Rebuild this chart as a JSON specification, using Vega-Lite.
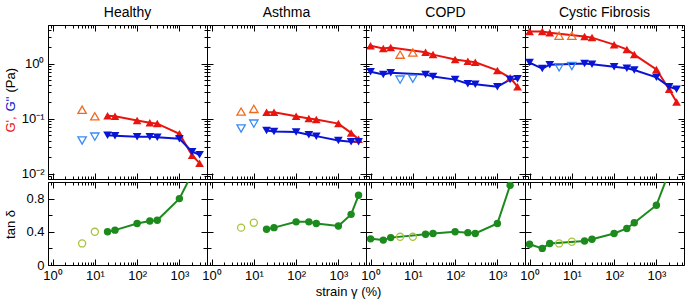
{
"$schema": "https://vega.github.io/schema/vega-lite/v6.json",
"padding": {"left": 4, "top": 5, "right": 1, "bottom": 0},
"background": "white",
"config": {
  "view": {"stroke": null},
  "font": "Liberation Sans",
  "axis": {"labelFont": "Liberation Sans", "labelFontSize": 13, "labelColor": "black", "titleFont": "Liberation Sans", "titleFontSize": 13, "titleFontWeight": "normal", "titleColor": "black", "domainColor": "black", "domainWidth": 1, "tickColor": "black", "tickWidth": 1, "grid": false, "labelOverlap": false, "labelFlush": false, "minExtent": 0},
  "title": {"font": "Liberation Sans", "fontSize": 14, "fontWeight": "normal", "color": "black", "offset": 5}
},
"data": {"values": [
{"g":"H","s":5,"k":"Gpo","v":0.145},{"g":"H","s":5,"k":"Gppo","v":0.04},{"g":"H","s":5,"k":"to","v":0.26},
{"g":"H","s":10,"k":"Gpo","v":0.11},{"g":"H","s":10,"k":"Gppo","v":0.047},{"g":"H","s":10,"k":"to","v":0.4},
{"g":"H","s":20,"k":"Gp","v":0.113},{"g":"H","s":20,"k":"Gpp","v":0.05},{"g":"H","s":20,"k":"t","v":0.4},
{"g":"H","s":30,"k":"Gp","v":0.11},{"g":"H","s":30,"k":"Gpp","v":0.049},{"g":"H","s":30,"k":"t","v":0.42},
{"g":"H","s":100,"k":"Gp","v":0.092},{"g":"H","s":100,"k":"Gpp","v":0.047},{"g":"H","s":100,"k":"t","v":0.5},
{"g":"H","s":200,"k":"Gp","v":0.084},{"g":"H","s":200,"k":"Gpp","v":0.047},{"g":"H","s":200,"k":"t","v":0.53},
{"g":"H","s":300,"k":"Gp","v":0.081},{"g":"H","s":300,"k":"Gpp","v":0.046},{"g":"H","s":300,"k":"t","v":0.54},
{"g":"H","s":1000,"k":"Gp","v":0.053},{"g":"H","s":1000,"k":"Gpp","v":0.043},{"g":"H","s":1000,"k":"t","v":0.8},
{"g":"H","s":2000,"k":"Gp","v":0.0215},{"g":"H","s":2000,"k":"Gpp","v":0.025},{"g":"H","s":2000,"k":"t","v":1.1},
{"g":"H","s":3000,"k":"Gp","v":0.0155},{"g":"H","s":3000,"k":"Gpp","v":0.022},{"g":"H","s":3000,"k":"t","v":1.4},
{"g":"A","s":5,"k":"Gpo","v":0.134},{"g":"A","s":5,"k":"Gppo","v":0.066},{"g":"A","s":5,"k":"to","v":0.45},
{"g":"A","s":10,"k":"Gpo","v":0.15},{"g":"A","s":10,"k":"Gppo","v":0.081},{"g":"A","s":10,"k":"to","v":0.51},
{"g":"A","s":20,"k":"Gp","v":0.13},{"g":"A","s":20,"k":"Gpp","v":0.061},{"g":"A","s":20,"k":"t","v":0.43},
{"g":"A","s":30,"k":"Gp","v":0.13},{"g":"A","s":30,"k":"Gpp","v":0.058},{"g":"A","s":30,"k":"t","v":0.45},
{"g":"A","s":100,"k":"Gp","v":0.11},{"g":"A","s":100,"k":"Gpp","v":0.057},{"g":"A","s":100,"k":"t","v":0.52},
{"g":"A","s":200,"k":"Gp","v":0.1},{"g":"A","s":200,"k":"Gpp","v":0.051},{"g":"A","s":200,"k":"t","v":0.52},
{"g":"A","s":300,"k":"Gp","v":0.096},{"g":"A","s":300,"k":"Gpp","v":0.048},{"g":"A","s":300,"k":"t","v":0.5},
{"g":"A","s":1000,"k":"Gp","v":0.081},{"g":"A","s":1000,"k":"Gpp","v":0.04},{"g":"A","s":1000,"k":"t","v":0.47},
{"g":"A","s":2000,"k":"Gp","v":0.055},{"g":"A","s":2000,"k":"Gpp","v":0.038},{"g":"A","s":2000,"k":"t","v":0.61},
{"g":"A","s":3000,"k":"Gp","v":0.042},{"g":"A","s":3000,"k":"Gpp","v":0.038},{"g":"A","s":3000,"k":"t","v":0.84},
{"g":"C","s":1,"k":"Gp","v":2.1},{"g":"C","s":1,"k":"Gpp","v":0.71},{"g":"C","s":1,"k":"t","v":0.315},
{"g":"C","s":2,"k":"Gp","v":1.87},{"g":"C","s":2,"k":"Gpp","v":0.63},{"g":"C","s":2,"k":"t","v":0.3},
{"g":"C","s":3,"k":"Gp","v":1.95},{"g":"C","s":3,"k":"Gpp","v":0.68},{"g":"C","s":3,"k":"t","v":0.33},
{"g":"C","s":5,"k":"Gpo","v":1.45},{"g":"C","s":5,"k":"Gppo","v":0.51},{"g":"C","s":5,"k":"to","v":0.34},
{"g":"C","s":10,"k":"Gpo","v":1.58},{"g":"C","s":10,"k":"Gppo","v":0.53},{"g":"C","s":10,"k":"to","v":0.34},
{"g":"C","s":20,"k":"Gp","v":1.6},{"g":"C","s":20,"k":"Gpp","v":0.63},{"g":"C","s":20,"k":"t","v":0.37},
{"g":"C","s":30,"k":"Gp","v":1.45},{"g":"C","s":30,"k":"Gpp","v":0.58},{"g":"C","s":30,"k":"t","v":0.38},
{"g":"C","s":100,"k":"Gp","v":1.18},{"g":"C","s":100,"k":"Gpp","v":0.51},{"g":"C","s":100,"k":"t","v":0.4},
{"g":"C","s":200,"k":"Gp","v":1.1},{"g":"C","s":200,"k":"Gpp","v":0.43},{"g":"C","s":200,"k":"t","v":0.39},
{"g":"C","s":300,"k":"Gp","v":1.05},{"g":"C","s":300,"k":"Gpp","v":0.42},{"g":"C","s":300,"k":"t","v":0.38},
{"g":"C","s":1000,"k":"Gp","v":0.75},{"g":"C","s":1000,"k":"Gpp","v":0.38},{"g":"C","s":1000,"k":"t","v":0.5},
{"g":"C","s":2000,"k":"Gp","v":0.55},{"g":"C","s":2000,"k":"Gpp","v":0.51},{"g":"C","s":2000,"k":"t","v":0.96},
{"g":"C","s":3000,"k":"Gp","v":0.38},{"g":"C","s":3000,"k":"Gpp","v":0.53},{"g":"C","s":3000,"k":"t","v":1.4},
{"g":"F","s":1,"k":"Gp","v":3.8},{"g":"F","s":1,"k":"Gpp","v":1.04},{"g":"F","s":1,"k":"t","v":0.25},
{"g":"F","s":2,"k":"Gp","v":3.8},{"g":"F","s":2,"k":"Gpp","v":0.81},{"g":"F","s":2,"k":"t","v":0.2},
{"g":"F","s":3,"k":"Gp","v":3.6},{"g":"F","s":3,"k":"Gpp","v":0.95},{"g":"F","s":3,"k":"t","v":0.26},
{"g":"F","s":5,"k":"Gpo","v":3.2},{"g":"F","s":5,"k":"Gppo","v":0.85},{"g":"F","s":5,"k":"to","v":0.26},
{"g":"F","s":10,"k":"Gpo","v":3.2},{"g":"F","s":10,"k":"Gppo","v":0.9},{"g":"F","s":10,"k":"to","v":0.28},
{"g":"F","s":20,"k":"Gp","v":3.1},{"g":"F","s":20,"k":"Gpp","v":1.0},{"g":"F","s":20,"k":"t","v":0.29},
{"g":"F","s":30,"k":"Gp","v":2.95},{"g":"F","s":30,"k":"Gpp","v":0.97},{"g":"F","s":30,"k":"t","v":0.31},
{"g":"F","s":100,"k":"Gp","v":2.2},{"g":"F","s":100,"k":"Gpp","v":0.87},{"g":"F","s":100,"k":"t","v":0.38},
{"g":"F","s":200,"k":"Gp","v":1.8},{"g":"F","s":200,"k":"Gpp","v":0.82},{"g":"F","s":200,"k":"t","v":0.44},
{"g":"F","s":300,"k":"Gp","v":1.45},{"g":"F","s":300,"k":"Gpp","v":0.76},{"g":"F","s":300,"k":"t","v":0.51},
{"g":"F","s":1000,"k":"Gp","v":0.78},{"g":"F","s":1000,"k":"Gpp","v":0.56},{"g":"F","s":1000,"k":"t","v":0.72},
{"g":"F","s":2000,"k":"Gp","v":0.34},{"g":"F","s":2000,"k":"Gpp","v":0.38},{"g":"F","s":2000,"k":"t","v":1.12},
{"g":"F","s":3000,"k":"Gp","v":0.2},{"g":"F","s":3000,"k":"Gpp","v":0.34},{"g":"F","s":3000,"k":"t","v":1.7}
]},
"spacing": 0,
"vconcat": [
{"spacing": 0, "bounds": "flush", "hconcat": [
 {"title": {"text": "Healthy"}, "width": 159, "height": 154,
  "resolve": {"axis": {"x": "independent", "y": "independent"}},
  "layer": [
   {"transform": [{"filter": "datum.g=='H' && (datum.k=='Gp' || datum.k=='Gpp')"}],
    "mark": {"type": "line", "strokeWidth": 2, "clip": true},
    "encoding": {
     "x": {"field": "s", "type": "quantitative", "scale": {"type": "log", "domain": [0.78, 4500], "nice": false}, "axis": {"orient": "bottom", "values": [0.8,0.9,1,2,3,4,5,6,7,8,9,10,20,30,40,50,60,70,80,90,100,200,300,400,500,600,700,800,900,1000,2000,3000,4000], "tickSize": {"condition": {"test": "indexof([1,10,100,1000],datum.value)>=0", "value": -6}, "value": -3}, "labels": false, "title": null}},
     "y": {"field": "v", "type": "quantitative", "scale": {"type": "log", "domain": [0.008, 5], "nice": false}, "axis": {"orient": "left", "values": [0.01,0.1,1], "tickSize": -6, "labelExpr": "datum.value==1?'10⁰':datum.value==0.1?'10⁻¹':'10⁻²'", "labelPadding": 10, "title": "(Pa)", "titleAngle": -90, "titleX": -37.5, "titleY": 67, "titleAlign": "left", "titleBaseline": "middle"}},
     "color": {"field": "k", "type": "nominal", "scale": {"domain": ["Gp","Gpo","Gpp","Gppo","t","to"], "range": ["#e8150f","#f26a20","#0a14d4","#3a8cf5","#1c8a1c","#a6c439"]}, "legend": null}
    }},
   {"transform": [{"filter": "datum.g=='H' && (datum.k=='Gp' || datum.k=='Gpp')"}],
    "mark": {"type": "point", "filled": true, "opacity": 1, "size": 75, "clip": true},
    "encoding": {
     "x": {"field": "s", "type": "quantitative", "scale": {"type": "log", "domain": [0.78, 4500], "nice": false}, "axis": {"orient": "top", "values": [0.8,0.9,1,2,3,4,5,6,7,8,9,10,20,30,40,50,60,70,80,90,100,200,300,400,500,600,700,800,900,1000,2000,3000,4000], "tickSize": {"condition": {"test": "indexof([1,10,100,1000],datum.value)>=0", "value": -6}, "value": -3}, "labels": false, "title": null}},
     "y": {"field": "v", "type": "quantitative", "scale": {"type": "log", "domain": [0.008, 5], "nice": false}, "axis": {"orient": "right", "values": [0.008,0.009,0.01,0.02,0.03,0.04,0.05,0.06,0.07,0.08,0.09,0.1,0.2,0.3,0.4,0.5,0.6,0.7,0.8,0.9,1,2,3,4,5], "tickSize": {"condition": {"test": "indexof([0.01,0.1,1],datum.value)>=0", "value": -6}, "value": -3}, "labels": false, "title": null}},
     "color": {"field": "k", "type": "nominal", "scale": {"domain": ["Gp","Gpo","Gpp","Gppo","t","to"], "range": ["#e8150f","#f26a20","#0a14d4","#3a8cf5","#1c8a1c","#a6c439"]}, "legend": null},
     "shape": {"field": "k", "type": "nominal", "scale": {"domain": ["Gp","Gpo","Gpp","Gppo","t","to"], "range": ["triangle-up","triangle-up","triangle-down","triangle-down","circle","circle"]}, "legend": null}
    }},
   {"transform": [{"filter": "datum.g=='H' && datum.k=='Gpo'"}],
    "mark": {"type": "point", "filled": false, "opacity": 1, "size": 70, "strokeWidth": 1.3, "shape": "triangle-up", "clip": true},
    "encoding": {
     "x": {"field": "s", "type": "quantitative", "scale": {"type": "log", "domain": [0.78, 4500], "nice": false}, "axis": null},
     "y": {"field": "v", "type": "quantitative", "scale": {"type": "log", "domain": [0.008, 5], "nice": false}, "axis": {"orient": "left", "values": [0.008,0.009,0.02,0.03,0.04,0.05,0.06,0.07,0.08,0.09,0.2,0.3,0.4,0.5,0.6,0.7,0.8,0.9,2,3,4,5], "tickSize": -3, "domain": false, "labels": false, "title": "G',", "titleColor": "#e8150f", "titleAngle": -90, "titleX": -37.5, "titleY": 107, "titleAlign": "left", "titleBaseline": "middle"}},
     "color": {"field": "k", "type": "nominal", "scale": {"domain": ["Gp","Gpo","Gpp","Gppo","t","to"], "range": ["#e8150f","#f26a20","#0a14d4","#3a8cf5","#1c8a1c","#a6c439"]}, "legend": null}
    }},
   {"transform": [{"filter": "datum.g=='H' && datum.k=='Gppo'"}],
    "mark": {"type": "point", "filled": false, "opacity": 1, "size": 70, "strokeWidth": 1.3, "shape": "triangle-down", "clip": true},
    "encoding": {
     "x": {"field": "s", "type": "quantitative", "scale": {"type": "log", "domain": [0.78, 4500], "nice": false}, "axis": null},
     "y": {"field": "v", "type": "quantitative", "scale": {"type": "log", "domain": [0.008, 5], "nice": false}, "axis": {"orient": "left", "domain": false, "ticks": false, "labels": false, "title": "G''", "titleColor": "#0a14d4", "titleAngle": -90, "titleX": -37.5, "titleY": 86, "titleAlign": "left", "titleBaseline": "middle"}},
     "color": {"field": "k", "type": "nominal", "scale": {"domain": ["Gp","Gpo","Gpp","Gppo","t","to"], "range": ["#e8150f","#f26a20","#0a14d4","#3a8cf5","#1c8a1c","#a6c439"]}, "legend": null}
    }}
  ]},
 {"title": {"text": "Asthma"}, "width": 159, "height": 154,
  "resolve": {"axis": {"x": "independent", "y": "independent"}},
  "layer": [
   {"transform": [{"filter": "datum.g=='A' && (datum.k=='Gp' || datum.k=='Gpp')"}],
    "mark": {"type": "line", "strokeWidth": 2, "clip": true},
    "encoding": {
     "x": {"field": "s", "type": "quantitative", "scale": {"type": "log", "domain": [0.78, 4500], "nice": false}, "axis": {"orient": "bottom", "values": [0.8,0.9,1,2,3,4,5,6,7,8,9,10,20,30,40,50,60,70,80,90,100,200,300,400,500,600,700,800,900,1000,2000,3000,4000], "tickSize": {"condition": {"test": "indexof([1,10,100,1000],datum.value)>=0", "value": -6}, "value": -3}, "labels": false, "title": null}},
     "y": {"field": "v", "type": "quantitative", "scale": {"type": "log", "domain": [0.008, 5], "nice": false}, "axis": {"orient": "left", "values": [0.008,0.009,0.01,0.02,0.03,0.04,0.05,0.06,0.07,0.08,0.09,0.1,0.2,0.3,0.4,0.5,0.6,0.7,0.8,0.9,1,2,3,4,5], "tickSize": {"condition": {"test": "indexof([0.01,0.1,1],datum.value)>=0", "value": -6}, "value": -3}, "labels": false, "title": null}},
     "color": {"field": "k", "type": "nominal", "scale": {"domain": ["Gp","Gpo","Gpp","Gppo","t","to"], "range": ["#e8150f","#f26a20","#0a14d4","#3a8cf5","#1c8a1c","#a6c439"]}, "legend": null}
    }},
   {"transform": [{"filter": "datum.g=='A' && (datum.k=='Gp' || datum.k=='Gpp')"}],
    "mark": {"type": "point", "filled": true, "opacity": 1, "size": 75, "clip": true},
    "encoding": {
     "x": {"field": "s", "type": "quantitative", "scale": {"type": "log", "domain": [0.78, 4500], "nice": false}, "axis": {"orient": "top", "values": [0.8,0.9,1,2,3,4,5,6,7,8,9,10,20,30,40,50,60,70,80,90,100,200,300,400,500,600,700,800,900,1000,2000,3000,4000], "tickSize": {"condition": {"test": "indexof([1,10,100,1000],datum.value)>=0", "value": -6}, "value": -3}, "labels": false, "title": null}},
     "y": {"field": "v", "type": "quantitative", "scale": {"type": "log", "domain": [0.008, 5], "nice": false}, "axis": {"orient": "right", "values": [0.008,0.009,0.01,0.02,0.03,0.04,0.05,0.06,0.07,0.08,0.09,0.1,0.2,0.3,0.4,0.5,0.6,0.7,0.8,0.9,1,2,3,4,5], "tickSize": {"condition": {"test": "indexof([0.01,0.1,1],datum.value)>=0", "value": -6}, "value": -3}, "labels": false, "title": null}},
     "color": {"field": "k", "type": "nominal", "scale": {"domain": ["Gp","Gpo","Gpp","Gppo","t","to"], "range": ["#e8150f","#f26a20","#0a14d4","#3a8cf5","#1c8a1c","#a6c439"]}, "legend": null},
     "shape": {"field": "k", "type": "nominal", "scale": {"domain": ["Gp","Gpo","Gpp","Gppo","t","to"], "range": ["triangle-up","triangle-up","triangle-down","triangle-down","circle","circle"]}, "legend": null}
    }},
   {"transform": [{"filter": "datum.g=='A' && (datum.k=='Gpo' || datum.k=='Gppo')"}],
    "mark": {"type": "point", "filled": false, "opacity": 1, "size": 70, "strokeWidth": 1.3, "clip": true},
    "encoding": {
     "x": {"field": "s", "type": "quantitative", "scale": {"type": "log", "domain": [0.78, 4500], "nice": false}, "axis": null},
     "y": {"field": "v", "type": "quantitative", "scale": {"type": "log", "domain": [0.008, 5], "nice": false}, "axis": null},
     "color": {"field": "k", "type": "nominal", "scale": {"domain": ["Gp","Gpo","Gpp","Gppo","t","to"], "range": ["#e8150f","#f26a20","#0a14d4","#3a8cf5","#1c8a1c","#a6c439"]}, "legend": null},
     "shape": {"field": "k", "type": "nominal", "scale": {"domain": ["Gp","Gpo","Gpp","Gppo","t","to"], "range": ["triangle-up","triangle-up","triangle-down","triangle-down","circle","circle"]}, "legend": null}
    }}
  ]},
 {"title": {"text": "COPD"}, "width": 159, "height": 154,
  "resolve": {"axis": {"x": "independent", "y": "independent"}},
  "layer": [
   {"transform": [{"filter": "datum.g=='C' && (datum.k=='Gp' || datum.k=='Gpp')"}],
    "mark": {"type": "line", "strokeWidth": 2, "clip": true},
    "encoding": {
     "x": {"field": "s", "type": "quantitative", "scale": {"type": "log", "domain": [0.78, 4500], "nice": false}, "axis": {"orient": "bottom", "values": [0.8,0.9,1,2,3,4,5,6,7,8,9,10,20,30,40,50,60,70,80,90,100,200,300,400,500,600,700,800,900,1000,2000,3000,4000], "tickSize": {"condition": {"test": "indexof([1,10,100,1000],datum.value)>=0", "value": -6}, "value": -3}, "labels": false, "title": null}},
     "y": {"field": "v", "type": "quantitative", "scale": {"type": "log", "domain": [0.008, 5], "nice": false}, "axis": {"orient": "left", "values": [0.008,0.009,0.01,0.02,0.03,0.04,0.05,0.06,0.07,0.08,0.09,0.1,0.2,0.3,0.4,0.5,0.6,0.7,0.8,0.9,1,2,3,4,5], "tickSize": {"condition": {"test": "indexof([0.01,0.1,1],datum.value)>=0", "value": -6}, "value": -3}, "labels": false, "title": null}},
     "color": {"field": "k", "type": "nominal", "scale": {"domain": ["Gp","Gpo","Gpp","Gppo","t","to"], "range": ["#e8150f","#f26a20","#0a14d4","#3a8cf5","#1c8a1c","#a6c439"]}, "legend": null}
    }},
   {"transform": [{"filter": "datum.g=='C' && (datum.k=='Gp' || datum.k=='Gpp')"}],
    "mark": {"type": "point", "filled": true, "opacity": 1, "size": 75, "clip": true},
    "encoding": {
     "x": {"field": "s", "type": "quantitative", "scale": {"type": "log", "domain": [0.78, 4500], "nice": false}, "axis": {"orient": "top", "values": [0.8,0.9,1,2,3,4,5,6,7,8,9,10,20,30,40,50,60,70,80,90,100,200,300,400,500,600,700,800,900,1000,2000,3000,4000], "tickSize": {"condition": {"test": "indexof([1,10,100,1000],datum.value)>=0", "value": -6}, "value": -3}, "labels": false, "title": null}},
     "y": {"field": "v", "type": "quantitative", "scale": {"type": "log", "domain": [0.008, 5], "nice": false}, "axis": {"orient": "right", "values": [0.008,0.009,0.01,0.02,0.03,0.04,0.05,0.06,0.07,0.08,0.09,0.1,0.2,0.3,0.4,0.5,0.6,0.7,0.8,0.9,1,2,3,4,5], "tickSize": {"condition": {"test": "indexof([0.01,0.1,1],datum.value)>=0", "value": -6}, "value": -3}, "labels": false, "title": null}},
     "color": {"field": "k", "type": "nominal", "scale": {"domain": ["Gp","Gpo","Gpp","Gppo","t","to"], "range": ["#e8150f","#f26a20","#0a14d4","#3a8cf5","#1c8a1c","#a6c439"]}, "legend": null},
     "shape": {"field": "k", "type": "nominal", "scale": {"domain": ["Gp","Gpo","Gpp","Gppo","t","to"], "range": ["triangle-up","triangle-up","triangle-down","triangle-down","circle","circle"]}, "legend": null}
    }},
   {"transform": [{"filter": "datum.g=='C' && (datum.k=='Gpo' || datum.k=='Gppo')"}],
    "mark": {"type": "point", "filled": false, "opacity": 1, "size": 70, "strokeWidth": 1.3, "clip": true},
    "encoding": {
     "x": {"field": "s", "type": "quantitative", "scale": {"type": "log", "domain": [0.78, 4500], "nice": false}, "axis": null},
     "y": {"field": "v", "type": "quantitative", "scale": {"type": "log", "domain": [0.008, 5], "nice": false}, "axis": null},
     "color": {"field": "k", "type": "nominal", "scale": {"domain": ["Gp","Gpo","Gpp","Gppo","t","to"], "range": ["#e8150f","#f26a20","#0a14d4","#3a8cf5","#1c8a1c","#a6c439"]}, "legend": null},
     "shape": {"field": "k", "type": "nominal", "scale": {"domain": ["Gp","Gpo","Gpp","Gppo","t","to"], "range": ["triangle-up","triangle-up","triangle-down","triangle-down","circle","circle"]}, "legend": null}
    }}
  ]},
 {"title": {"text": "Cystic Fibrosis"}, "width": 159, "height": 154,
  "resolve": {"axis": {"x": "independent", "y": "independent"}},
  "layer": [
   {"transform": [{"filter": "datum.g=='F' && (datum.k=='Gp' || datum.k=='Gpp')"}],
    "mark": {"type": "line", "strokeWidth": 2, "clip": true},
    "encoding": {
     "x": {"field": "s", "type": "quantitative", "scale": {"type": "log", "domain": [0.78, 4500], "nice": false}, "axis": {"orient": "bottom", "values": [0.8,0.9,1,2,3,4,5,6,7,8,9,10,20,30,40,50,60,70,80,90,100,200,300,400,500,600,700,800,900,1000,2000,3000,4000], "tickSize": {"condition": {"test": "indexof([1,10,100,1000],datum.value)>=0", "value": -6}, "value": -3}, "labels": false, "title": null}},
     "y": {"field": "v", "type": "quantitative", "scale": {"type": "log", "domain": [0.008, 5], "nice": false}, "axis": {"orient": "left", "values": [0.008,0.009,0.01,0.02,0.03,0.04,0.05,0.06,0.07,0.08,0.09,0.1,0.2,0.3,0.4,0.5,0.6,0.7,0.8,0.9,1,2,3,4,5], "tickSize": {"condition": {"test": "indexof([0.01,0.1,1],datum.value)>=0", "value": -6}, "value": -3}, "labels": false, "title": null}},
     "color": {"field": "k", "type": "nominal", "scale": {"domain": ["Gp","Gpo","Gpp","Gppo","t","to"], "range": ["#e8150f","#f26a20","#0a14d4","#3a8cf5","#1c8a1c","#a6c439"]}, "legend": null}
    }},
   {"transform": [{"filter": "datum.g=='F' && (datum.k=='Gp' || datum.k=='Gpp')"}],
    "mark": {"type": "point", "filled": true, "opacity": 1, "size": 75, "clip": true},
    "encoding": {
     "x": {"field": "s", "type": "quantitative", "scale": {"type": "log", "domain": [0.78, 4500], "nice": false}, "axis": {"orient": "top", "values": [0.8,0.9,1,2,3,4,5,6,7,8,9,10,20,30,40,50,60,70,80,90,100,200,300,400,500,600,700,800,900,1000,2000,3000,4000], "tickSize": {"condition": {"test": "indexof([1,10,100,1000],datum.value)>=0", "value": -6}, "value": -3}, "labels": false, "title": null}},
     "y": {"field": "v", "type": "quantitative", "scale": {"type": "log", "domain": [0.008, 5], "nice": false}, "axis": {"orient": "right", "values": [0.008,0.009,0.01,0.02,0.03,0.04,0.05,0.06,0.07,0.08,0.09,0.1,0.2,0.3,0.4,0.5,0.6,0.7,0.8,0.9,1,2,3,4,5], "tickSize": {"condition": {"test": "indexof([0.01,0.1,1],datum.value)>=0", "value": -6}, "value": -3}, "labels": false, "title": null}},
     "color": {"field": "k", "type": "nominal", "scale": {"domain": ["Gp","Gpo","Gpp","Gppo","t","to"], "range": ["#e8150f","#f26a20","#0a14d4","#3a8cf5","#1c8a1c","#a6c439"]}, "legend": null},
     "shape": {"field": "k", "type": "nominal", "scale": {"domain": ["Gp","Gpo","Gpp","Gppo","t","to"], "range": ["triangle-up","triangle-up","triangle-down","triangle-down","circle","circle"]}, "legend": null}
    }},
   {"transform": [{"filter": "datum.g=='F' && (datum.k=='Gpo' || datum.k=='Gppo')"}],
    "mark": {"type": "point", "filled": false, "opacity": 1, "size": 70, "strokeWidth": 1.3, "clip": true},
    "encoding": {
     "x": {"field": "s", "type": "quantitative", "scale": {"type": "log", "domain": [0.78, 4500], "nice": false}, "axis": null},
     "y": {"field": "v", "type": "quantitative", "scale": {"type": "log", "domain": [0.008, 5], "nice": false}, "axis": null},
     "color": {"field": "k", "type": "nominal", "scale": {"domain": ["Gp","Gpo","Gpp","Gppo","t","to"], "range": ["#e8150f","#f26a20","#0a14d4","#3a8cf5","#1c8a1c","#a6c439"]}, "legend": null},
     "shape": {"field": "k", "type": "nominal", "scale": {"domain": ["Gp","Gpo","Gpp","Gppo","t","to"], "range": ["triangle-up","triangle-up","triangle-down","triangle-down","circle","circle"]}, "legend": null}
    }}
  ]}
]},
{"spacing": 0, "bounds": "flush",
 "title": {"text": "strain γ (%)", "orient": "bottom", "anchor": "middle", "fontSize": 13, "offset": 1, "dx": 4},
 "hconcat": [
 {"width": 159, "height": 83,
  "resolve": {"axis": {"x": "independent", "y": "independent"}},
  "layer": [
   {"transform": [{"filter": "datum.g=='H' && datum.k=='t'"}],
    "mark": {"type": "line", "strokeWidth": 2, "clip": true, "color": "#1c8a1c"},
    "encoding": {
     "x": {"field": "s", "type": "quantitative", "scale": {"type": "log", "domain": [0.78, 4500], "nice": false}, "axis": {"orient": "bottom", "values": [0.8,0.9,1,2,3,4,5,6,7,8,9,10,20,30,40,50,60,70,80,90,100,200,300,400,500,600,700,800,900,1000,2000,3000,4000], "tickSize": {"condition": {"test": "indexof([1,10,100,1000],datum.value)>=0", "value": -6}, "value": -3}, "labelExpr": "datum.value==1?'10⁰':datum.value==10?'10¹':datum.value==100?'10²':datum.value==1000?'10³':''", "labelPadding": 10, "title": null}},
     "y": {"field": "v", "type": "quantitative", "scale": {"domain": [0, 1], "nice": false, "zero": false}, "axis": {"orient": "left", "values": [0,0.4,0.8], "tickSize": -6, "labelExpr": "datum.value==0?'0':datum.value==0.4?'0.4':'0.8'", "labelPadding": 10, "title": "tan δ", "titleAngle": -90, "titleX": -37.5, "titleY": 42, "titleAlign": "center", "titleBaseline": "middle"}}
    }},
   {"transform": [{"filter": "datum.g=='H' && datum.k=='t'"}],
    "mark": {"type": "point", "filled": true, "opacity": 1, "size": 55, "shape": "circle", "clip": true, "color": "#1c8a1c"},
    "encoding": {
     "x": {"field": "s", "type": "quantitative", "scale": {"type": "log", "domain": [0.78, 4500], "nice": false}, "axis": {"orient": "top", "values": [0.8,0.9,1,2,3,4,5,6,7,8,9,10,20,30,40,50,60,70,80,90,100,200,300,400,500,600,700,800,900,1000,2000,3000,4000], "tickSize": {"condition": {"test": "indexof([1,10,100,1000],datum.value)>=0", "value": -6}, "value": -3}, "labels": false, "title": null}},
     "y": {"field": "v", "type": "quantitative", "scale": {"domain": [0, 1], "nice": false, "zero": false}, "axis": {"orient": "right", "values": [0,0.2,0.4,0.6,0.8,1], "tickSize": {"condition": {"test": "indexof([0,0.4,0.8],datum.value)>=0", "value": -6}, "value": -4}, "labels": false, "title": null}}
    }},
   {"transform": [{"filter": "datum.g=='H' && datum.k=='to'"}],
    "mark": {"type": "point", "filled": false, "opacity": 1, "size": 50, "strokeWidth": 1.3, "shape": "circle", "clip": true, "color": "#a6c439"},
    "encoding": {
     "x": {"field": "s", "type": "quantitative", "scale": {"type": "log", "domain": [0.78, 4500], "nice": false}, "axis": null},
     "y": {"field": "v", "type": "quantitative", "scale": {"domain": [0, 1], "nice": false, "zero": false}, "axis": {"orient": "left", "values": [0.2,0.6,1], "tickSize": -4, "domain": false, "labels": false, "title": null}}
    }}
  ]},
 {"width": 159, "height": 83,
  "resolve": {"axis": {"x": "independent", "y": "independent"}},
  "layer": [
   {"transform": [{"filter": "datum.g=='A' && datum.k=='t'"}],
    "mark": {"type": "line", "strokeWidth": 2, "clip": true, "color": "#1c8a1c"},
    "encoding": {
     "x": {"field": "s", "type": "quantitative", "scale": {"type": "log", "domain": [0.78, 4500], "nice": false}, "axis": {"orient": "bottom", "values": [0.8,0.9,1,2,3,4,5,6,7,8,9,10,20,30,40,50,60,70,80,90,100,200,300,400,500,600,700,800,900,1000,2000,3000,4000], "tickSize": {"condition": {"test": "indexof([1,10,100,1000],datum.value)>=0", "value": -6}, "value": -3}, "labelExpr": "datum.value==1?'10⁰':datum.value==10?'10¹':datum.value==100?'10²':datum.value==1000?'10³':''", "labelPadding": 10, "title": null}},
     "y": {"field": "v", "type": "quantitative", "scale": {"domain": [0, 1], "nice": false, "zero": false}, "axis": {"orient": "left", "values": [0,0.2,0.4,0.6,0.8,1], "tickSize": {"condition": {"test": "indexof([0,0.4,0.8],datum.value)>=0", "value": -6}, "value": -4}, "labels": false, "title": null}}
    }},
   {"transform": [{"filter": "datum.g=='A' && datum.k=='t'"}],
    "mark": {"type": "point", "filled": true, "opacity": 1, "size": 55, "shape": "circle", "clip": true, "color": "#1c8a1c"},
    "encoding": {
     "x": {"field": "s", "type": "quantitative", "scale": {"type": "log", "domain": [0.78, 4500], "nice": false}, "axis": {"orient": "top", "values": [0.8,0.9,1,2,3,4,5,6,7,8,9,10,20,30,40,50,60,70,80,90,100,200,300,400,500,600,700,800,900,1000,2000,3000,4000], "tickSize": {"condition": {"test": "indexof([1,10,100,1000],datum.value)>=0", "value": -6}, "value": -3}, "labels": false, "title": null}},
     "y": {"field": "v", "type": "quantitative", "scale": {"domain": [0, 1], "nice": false, "zero": false}, "axis": {"orient": "right", "values": [0,0.2,0.4,0.6,0.8,1], "tickSize": {"condition": {"test": "indexof([0,0.4,0.8],datum.value)>=0", "value": -6}, "value": -4}, "labels": false, "title": null}}
    }},
   {"transform": [{"filter": "datum.g=='A' && datum.k=='to'"}],
    "mark": {"type": "point", "filled": false, "opacity": 1, "size": 50, "strokeWidth": 1.3, "shape": "circle", "clip": true, "color": "#a6c439"},
    "encoding": {
     "x": {"field": "s", "type": "quantitative", "scale": {"type": "log", "domain": [0.78, 4500], "nice": false}, "axis": null},
     "y": {"field": "v", "type": "quantitative", "scale": {"domain": [0, 1], "nice": false, "zero": false}, "axis": null}
    }}
  ]},
 {"width": 159, "height": 83,
  "resolve": {"axis": {"x": "independent", "y": "independent"}},
  "layer": [
   {"transform": [{"filter": "datum.g=='C' && datum.k=='t'"}],
    "mark": {"type": "line", "strokeWidth": 2, "clip": true, "color": "#1c8a1c"},
    "encoding": {
     "x": {"field": "s", "type": "quantitative", "scale": {"type": "log", "domain": [0.78, 4500], "nice": false}, "axis": {"orient": "bottom", "values": [0.8,0.9,1,2,3,4,5,6,7,8,9,10,20,30,40,50,60,70,80,90,100,200,300,400,500,600,700,800,900,1000,2000,3000,4000], "tickSize": {"condition": {"test": "indexof([1,10,100,1000],datum.value)>=0", "value": -6}, "value": -3}, "labelExpr": "datum.value==1?'10⁰':datum.value==10?'10¹':datum.value==100?'10²':datum.value==1000?'10³':''", "labelPadding": 10, "title": null}},
     "y": {"field": "v", "type": "quantitative", "scale": {"domain": [0, 1], "nice": false, "zero": false}, "axis": {"orient": "left", "values": [0,0.2,0.4,0.6,0.8,1], "tickSize": {"condition": {"test": "indexof([0,0.4,0.8],datum.value)>=0", "value": -6}, "value": -4}, "labels": false, "title": null}}
    }},
   {"transform": [{"filter": "datum.g=='C' && datum.k=='t'"}],
    "mark": {"type": "point", "filled": true, "opacity": 1, "size": 55, "shape": "circle", "clip": true, "color": "#1c8a1c"},
    "encoding": {
     "x": {"field": "s", "type": "quantitative", "scale": {"type": "log", "domain": [0.78, 4500], "nice": false}, "axis": {"orient": "top", "values": [0.8,0.9,1,2,3,4,5,6,7,8,9,10,20,30,40,50,60,70,80,90,100,200,300,400,500,600,700,800,900,1000,2000,3000,4000], "tickSize": {"condition": {"test": "indexof([1,10,100,1000],datum.value)>=0", "value": -6}, "value": -3}, "labels": false, "title": null}},
     "y": {"field": "v", "type": "quantitative", "scale": {"domain": [0, 1], "nice": false, "zero": false}, "axis": {"orient": "right", "values": [0,0.2,0.4,0.6,0.8,1], "tickSize": {"condition": {"test": "indexof([0,0.4,0.8],datum.value)>=0", "value": -6}, "value": -4}, "labels": false, "title": null}}
    }},
   {"transform": [{"filter": "datum.g=='C' && datum.k=='to'"}],
    "mark": {"type": "point", "filled": false, "opacity": 1, "size": 50, "strokeWidth": 1.3, "shape": "circle", "clip": true, "color": "#a6c439"},
    "encoding": {
     "x": {"field": "s", "type": "quantitative", "scale": {"type": "log", "domain": [0.78, 4500], "nice": false}, "axis": null},
     "y": {"field": "v", "type": "quantitative", "scale": {"domain": [0, 1], "nice": false, "zero": false}, "axis": null}
    }}
  ]},
 {"width": 159, "height": 83,
  "resolve": {"axis": {"x": "independent", "y": "independent"}},
  "layer": [
   {"transform": [{"filter": "datum.g=='F' && datum.k=='t'"}],
    "mark": {"type": "line", "strokeWidth": 2, "clip": true, "color": "#1c8a1c"},
    "encoding": {
     "x": {"field": "s", "type": "quantitative", "scale": {"type": "log", "domain": [0.78, 4500], "nice": false}, "axis": {"orient": "bottom", "values": [0.8,0.9,1,2,3,4,5,6,7,8,9,10,20,30,40,50,60,70,80,90,100,200,300,400,500,600,700,800,900,1000,2000,3000,4000], "tickSize": {"condition": {"test": "indexof([1,10,100,1000],datum.value)>=0", "value": -6}, "value": -3}, "labelExpr": "datum.value==1?'10⁰':datum.value==10?'10¹':datum.value==100?'10²':datum.value==1000?'10³':''", "labelPadding": 10, "title": null}},
     "y": {"field": "v", "type": "quantitative", "scale": {"domain": [0, 1], "nice": false, "zero": false}, "axis": {"orient": "left", "values": [0,0.2,0.4,0.6,0.8,1], "tickSize": {"condition": {"test": "indexof([0,0.4,0.8],datum.value)>=0", "value": -6}, "value": -4}, "labels": false, "title": null}}
    }},
   {"transform": [{"filter": "datum.g=='F' && datum.k=='t'"}],
    "mark": {"type": "point", "filled": true, "opacity": 1, "size": 55, "shape": "circle", "clip": true, "color": "#1c8a1c"},
    "encoding": {
     "x": {"field": "s", "type": "quantitative", "scale": {"type": "log", "domain": [0.78, 4500], "nice": false}, "axis": {"orient": "top", "values": [0.8,0.9,1,2,3,4,5,6,7,8,9,10,20,30,40,50,60,70,80,90,100,200,300,400,500,600,700,800,900,1000,2000,3000,4000], "tickSize": {"condition": {"test": "indexof([1,10,100,1000],datum.value)>=0", "value": -6}, "value": -3}, "labels": false, "title": null}},
     "y": {"field": "v", "type": "quantitative", "scale": {"domain": [0, 1], "nice": false, "zero": false}, "axis": {"orient": "right", "values": [0,0.2,0.4,0.6,0.8,1], "tickSize": {"condition": {"test": "indexof([0,0.4,0.8],datum.value)>=0", "value": -6}, "value": -4}, "labels": false, "title": null}}
    }},
   {"transform": [{"filter": "datum.g=='F' && datum.k=='to'"}],
    "mark": {"type": "point", "filled": false, "opacity": 1, "size": 50, "strokeWidth": 1.3, "shape": "circle", "clip": true, "color": "#a6c439"},
    "encoding": {
     "x": {"field": "s", "type": "quantitative", "scale": {"type": "log", "domain": [0.78, 4500], "nice": false}, "axis": null},
     "y": {"field": "v", "type": "quantitative", "scale": {"domain": [0, 1], "nice": false, "zero": false}, "axis": null}
    }}
  ]}
]}
]
}
